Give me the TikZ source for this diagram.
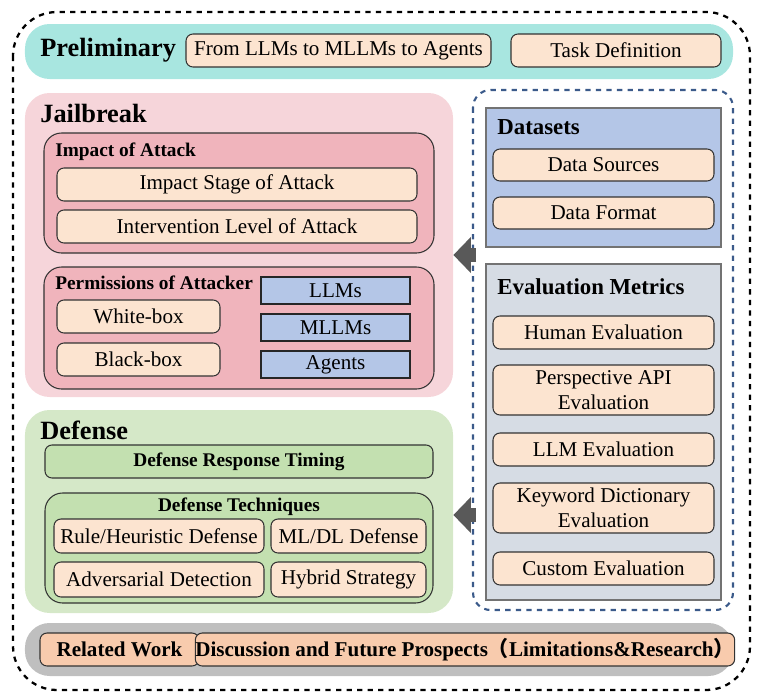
\documentclass[tikz,border=0pt]{standalone}
\usepackage{fontspec}
\setmainfont{Liberation Serif}
\newfontfamily\cjkfont{Noto Sans CJK SC}
\usetikzlibrary{arrows.meta}
\definecolor{teal}{HTML}{A8E6E0}
\definecolor{peach}{HTML}{FCE4D0}
\definecolor{pinkbg}{HTML}{F6D5DA}
\definecolor{pinkin}{HTML}{F0B4BC}
\definecolor{bluebox}{HTML}{B4C6E7}
\definecolor{greenbg}{HTML}{D5E8C8}
\definecolor{greenin}{HTML}{C3E0B0}
\definecolor{evalbg}{HTML}{D6DCE4}
\definecolor{graybg}{HTML}{BFBFBF}
\definecolor{orange}{HTML}{F8CBAD}
\definecolor{dashblue}{HTML}{3B5A8A}
% box from corner (x1,y1) to (x2,y2), in pixels
\newcommand\pxbox[7]{%
  \pgfmathsetmacro\bw{0.02*(#4-#2)}%
  \pgfmathsetmacro\bh{0.02*(#5-#3)}%
  \node[#6, minimum width=\bw cm, minimum height=\bh cm] (#1) at ({(#2+#4)/2},{(#3+#5)/2}) {#7};}
\tikzset{
  region/.style={inner sep=0pt, rounded corners=14pt, draw=none},
  group/.style={inner sep=0pt, rounded corners=10pt, draw=black!80, line width=0.6pt},
  panel/.style={inner sep=0pt, draw=black!55, line width=0.8pt},
  item/.style={inner sep=0pt, rounded corners=4pt, draw=black!80, fill=peach, line width=0.6pt, font=\fontsize{12}{14}\selectfont, align=center},
  tag/.style={inner sep=0pt, draw=black!85, fill=bluebox, line width=0.8pt, font=\fontsize{12}{13}\selectfont},
  head/.style={anchor=west, inner sep=0pt, font=\bfseries\fontsize{15}{16}\selectfont},
  subhead/.style={anchor=west, inner sep=0pt, font=\bfseries\fontsize{11}{12}\selectfont},
  flow/.style={draw=black!65, line width=8pt, -{Triangle[width=20pt,length=10pt]}}
}
\begin{document}
\begin{tikzpicture}[x=0.02cm,y=-0.02cm]
\useasboundingbox (0,0) rectangle (758,700);
\draw[dashed, line width=1.3pt, rounded corners=25pt] (13,12) rectangle (750,690);

% preliminary
\pxbox{prelim}{25}{24}{733}{79}{region, fill=teal}{}
\node[head] (prelimT) at (40,50) {Preliminary};
\pxbox{evol}{186}{34}{491}{67}{item}{From LLMs to MLLMs to Agents}
\pxbox{task}{511}{34}{721}{67}{item}{Task Definition}

% jailbreak
\pxbox{jail}{25}{93}{453}{397}{region, fill=pinkbg}{}
\node[head] (jailT) at (40,113) {Jailbreak};
\pxbox{impact}{44}{133}{434}{253}{group, fill=pinkin}{}
\node[subhead] (impactT) at (55,152) {Impact of Attack};
\pxbox{stage}{57}{168}{417}{201}{item}{Impact Stage of Attack}
\pxbox{level}{57}{210}{417}{243}{item}{Intervention Level of Attack}
\pxbox{perm}{44}{267}{434}{389}{group, fill=pinkin}{}
\node[subhead] (permT) at (55,283) {Permissions of Attacker};
\pxbox{white}{57}{300}{220}{333}{item}{White-box}
\pxbox{black}{57}{343}{220}{376}{item}{Black-box}
\pxbox{llms}{261}{277}{410}{304}{tag}{LLMs}
\pxbox{mllms}{261}{314}{410}{341}{tag}{MLLMs}
\pxbox{agents}{261}{351}{410}{378}{tag}{Agents}

% defense
\pxbox{def}{25}{410}{453}{613}{region, fill=greenbg}{}
\node[head] (defT) at (40,430) {Defense};
\pxbox{timing}{45}{445}{433}{478}{item, fill=greenin, font=\bfseries\fontsize{11}{12}\selectfont}{Defense Response Timing}
\pxbox{tech}{45}{493}{433}{603}{group, fill=greenin}{}
\node[subhead, anchor=center] (techT) at (239,507) {Defense Techniques};
\pxbox{rule}{54}{519}{264}{553}{item}{Rule/Heuristic Defense}
\pxbox{mldl}{271}{519}{426}{553}{item}{ML/DL Defense}
\pxbox{adv}{54}{562}{264}{597}{item}{Adversarial Detection}
\pxbox{hybrid}{271}{562}{426}{597}{item}{Hybrid Strategy}

% datasets and metrics
\draw[dashed, dashblue, line width=1.2pt, rounded corners=10pt] (473,90) rectangle (733,610);
\pxbox{data}{486}{108}{721}{247}{panel, fill=bluebox}{}
\node[head, font=\bfseries\fontsize{13}{14}\selectfont] (dataT) at (497,127) {Datasets};
\pxbox{sources}{493}{149}{714}{181}{item}{Data Sources}
\pxbox{format}{493}{197}{714}{229}{item}{Data Format}
\pxbox{eval}{486}{264}{721}{600}{panel, fill=evalbg}{}
\node[head, font=\bfseries\fontsize{13}{14}\selectfont] (evalT) at (497,287) {Evaluation Metrics};
\pxbox{human}{493}{316}{714}{349}{item}{Human Evaluation}
\pxbox{persp}{493}{365}{714}{415}{item}{Perspective API\\Evaluation}
\pxbox{llmeval}{493}{433}{714}{466}{item}{LLM Evaluation}
\pxbox{keyword}{493}{483}{714}{533}{item}{Keyword Dictionary\\Evaluation}
\pxbox{custom}{493}{552}{714}{585}{item}{Custom Evaluation}

\coordinate (fromJ) at (476,255);
\coordinate (fromD) at (476,515);
\draw[flow] (fromJ) -- (jail.east |- fromJ);
\draw[flow] (fromD) -- (def.east |- fromD);

% bottom
\pxbox{bottom}{25}{623}{733}{676}{region, fill=graybg}{}
\pxbox{related}{40}{633}{199}{666}{item, fill=orange, font=\bfseries\fontsize{12}{13}\selectfont}{Related Work}
\pxbox{future}{209}{633}{721}{666}{item, fill=orange, font=\bfseries\fontsize{12}{13}\selectfont}{Discussion and Future Prospects{\cjkfont （}Limitations\&Research{\cjkfont ）}}
\end{tikzpicture}
\end{document}
